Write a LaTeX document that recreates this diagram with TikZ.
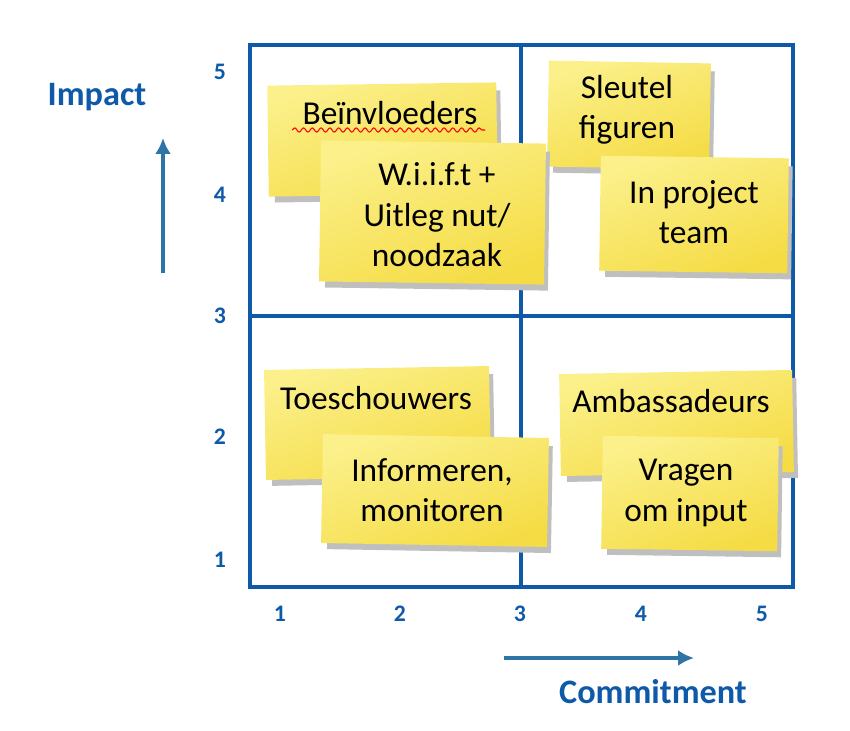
\documentclass[tikz,border=0pt]{standalone}
\usepackage{fontspec}
\setmainfont{Carlito}
\usetikzlibrary{decorations.pathmorphing,arrows.meta}
\definecolor{gblue}{HTML}{0F5AA8}
\definecolor{arr}{HTML}{2E75A6}
\definecolor{notey}{HTML}{F5DC45}
\definecolor{notel}{HTML}{FBF08A}
\tikzset{
  axnum/.style={font=\bfseries\fontsize{13.5}{16}\selectfont, text=gblue},
  axlab/.style={font=\bfseries\fontsize{19.5}{22}\selectfont, text=gblue},
  notetext/.style={font=\fontsize{19}{23}\selectfont, align=center},
  grid/.style={gblue, line width=2.2pt},
  bigarrow/.style={arr, line width=2.2pt, -{Latex[length=9pt,width=9pt]}},
}
\newcommand{\sticky}[5]{% x1 y1 x2 y2 rotation
  \begin{scope}[rotate around={#5:({(#1+#3)/2},{(#2+#4)/2})}]
  \fill[black!25] (#1+6,#2+8) rectangle (#3+4,#4+6);
  \shade[top color=notel, bottom color=notey, shading angle=20] (#1,#2) rectangle (#3,#4);
  \end{scope}}
\begin{document}
\begin{tikzpicture}[x=0.02cm,y=-0.02cm]
\useasboundingbox (0,0) rectangle (850,731);
% grid
\draw[grid] (250,45) rectangle (793,587);
\draw[grid] (521,45) -- (521,587);
\draw[grid] (250,316) -- (793,316);
% axis numbers
\node[axnum] (y5) at (220,72) {5};
\node[axnum] (y4) at (220,195) {4};
\node[axnum] (y3) at (220,316) {3};
\node[axnum] (y2) at (220,437) {2};
\node[axnum] (y1) at (220,560) {1};
\node[axnum] (x1) at (280,614) {1};
\node[axnum] (x2) at (400,614) {2};
\node[axnum] (x3) at (520,614) {3};
\node[axnum] (x4) at (641,614) {4};
\node[axnum] (x5) at (762,614) {5};
\node[axlab] (imp) at (97,97) {Impact};
\node[axlab] (com) at (653,692) {Commitment};
\coordinate (va) at (163,273); \coordinate (vb) at (163,138);
\coordinate (ha) at (504,658); \coordinate (hb) at (694,658);
\draw[bigarrow] (va) -- (vb);
\draw[bigarrow] (ha) -- (hb);
% notes
\sticky{268}{84}{497}{195}{0.8}
\node[notetext] (n1) at (390,113) {Beïnvloeders};
\draw[red, line width=0.6pt, decorate, decoration={snake, amplitude=1.2pt, segment length=5pt}] (292,130) -- (485,130);
\sticky{548}{62}{710}{168}{-1}
\node[notetext] (n3) at (627,110) {Sleutel\\figuren};
\sticky{320}{142}{545}{283}{-0.8}
\node[notetext] (n2) at (437,215) {W.i.i.f.t +\\Uitleg nut/\\noodzaak};
\sticky{600}{157}{788}{272}{-0.8}
\node[notetext] (n4) at (694,212) {In project\\team};
\sticky{265}{368}{490}{478}{1}
\node[notetext] (n5) at (376,398) {Toeschouwers};
\sticky{322}{436}{548}{545}{-1}
\node[notetext] (n6) at (432,490) {Informeren,\\monitoren};
\sticky{560}{372}{793}{474}{1}
\node[notetext] (n7) at (671,401) {Ambassadeurs};
\sticky{602}{437}{778}{550}{-0.8}
\node[notetext] (n8) at (686,493) {Vragen\\om input};
\end{tikzpicture}
\end{document}
